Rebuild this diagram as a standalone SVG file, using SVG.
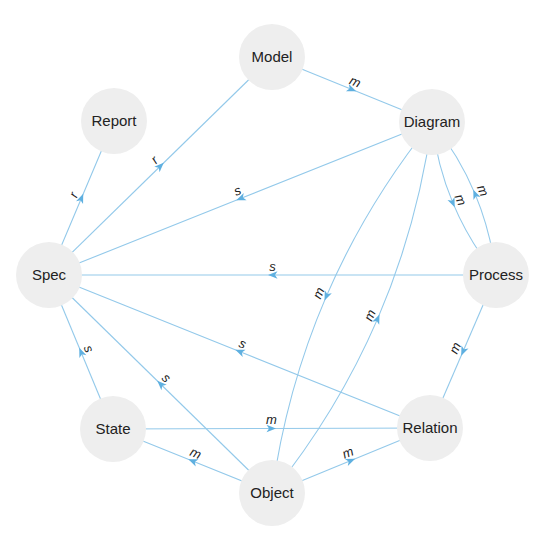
<svg xmlns="http://www.w3.org/2000/svg" width="546" height="550" viewBox="0 0 546 550">
<defs>
<marker id="arr" markerWidth="12" markerHeight="10" viewBox="-1 -5 12 10" refX="5" refY="0" orient="auto" markerUnits="userSpaceOnUse">
<path d="M0,-3.8 L9.5,0 L0,3.8 L2.5,0 Z" fill="#5fb0e0"/>
</marker>
<style>
.edge{fill:none;stroke:#93c9ea;stroke-width:1.1;marker-mid:url(#arr)}
.el{font-family:"Liberation Sans",Arial,sans-serif;font-size:13px;font-style:italic;fill:#222;text-anchor:middle}
.node circle{fill:#eeeeee}
.node text{font-family:"Liberation Sans",Arial,sans-serif;font-size:15px;fill:#222;text-anchor:middle}
</style>
</defs>
<rect width="546" height="550" fill="#ffffff"/>
<g id="connectors">
<path class="edge" d="M272,57 L352,89.5 L432,122"/>
<path class="edge" d="M49,275 L160.5,166 L272,57"/>
<path class="edge" d="M49,275 L81.5,198 L114,121"/>
<path class="edge" d="M432,122 L240.5,198.5 L49,275"/>
<path class="edge" d="M496,275 L272.5,275 L49,275"/>
<path class="edge" d="M430,428 L239.5,351.5 L49,275"/>
<path class="edge" d="M113,429 L81,352 L49,275"/>
<path class="edge" d="M272,493 L160.5,384 L49,275"/>
<path class="edge" d="M113,429 L271.5,428.5 L430,428"/>
<path class="edge" d="M272,493 L192.5,461 L113,429"/>
<path class="edge" d="M272,493 L351,460.5 L430,428"/>
<path class="edge" d="M496,275 L463,351.5 L430,428"/>
<path class="edge" d="M432,122 Q366.3,203.65 326.3,296.4 Q286.3,389.15 272,493"/>
<path class="edge" d="M272,493 Q337.7,411.35 377.7,318.6 Q417.7,225.85 432,122"/>
<path class="edge" d="M432,122 Q436.95,164.9 452.95,203.15 Q468.95,241.4 496,275"/>
<path class="edge" d="M496,275 Q491.05,232.1 475.05,193.85 Q459.05,155.6 432,122"/>
<text class="el" x="355" y="82.1" dy="0.3em" transform="rotate(22.1 355 82.1)">m</text>
<text class="el" x="154.9" y="160.3" dy="0.3em" transform="rotate(-44.35 154.9 160.3)">r</text>
<text class="el" x="74.1" y="194.9" dy="0.3em" transform="rotate(-67.1 74.1 194.9)">r</text>
<text class="el" x="237.5" y="191.1" dy="0.3em" transform="rotate(-21.8 237.5 191.1)">s</text>
<text class="el" x="272.5" y="267" dy="0.3em">s</text>
<text class="el" x="242.5" y="344.1" dy="0.3em" transform="rotate(21.9 242.5 344.1)">s</text>
<text class="el" x="88.4" y="348.9" dy="0.3em" transform="rotate(67.4 88.4 348.9)">s</text>
<text class="el" x="166.1" y="378.3" dy="0.3em" transform="rotate(44.35 166.1 378.3)">s</text>
<text class="el" x="271.5" y="420.5" dy="0.3em">m</text>
<text class="el" x="195.5" y="453.6" dy="0.3em" transform="rotate(21.9 195.5 453.6)">m</text>
<text class="el" x="348" y="453.1" dy="0.3em" transform="rotate(-22.4 348 453.1)">m</text>
<text class="el" x="455.7" y="348.3" dy="0.3em" transform="rotate(-66.7 455.7 348.3)">m</text>
<text class="el" x="319" y="293.2" dy="0.3em" transform="rotate(-66.7 319 293.2)">m</text>
<text class="el" x="370.4" y="315.4" dy="0.3em" transform="rotate(-66.7 370.4 315.4)">m</text>
<text class="el" x="460.3" y="200" dy="0.3em" transform="rotate(67.3 460.3 200)">m</text>
<text class="el" x="482.4" y="190.8" dy="0.3em" transform="rotate(67.3 482.4 190.8)">m</text>
</g>
<g id="node-model" class="node"><circle cx="272" cy="57" r="33"/><text x="272" y="62">Model</text></g>
<g id="node-report" class="node"><circle cx="114" cy="121" r="33"/><text x="114" y="126">Report</text></g>
<g id="node-diagram" class="node"><circle cx="432" cy="122" r="33"/><text x="432" y="127">Diagram</text></g>
<g id="node-spec" class="node"><circle cx="49" cy="275" r="33"/><text x="49" y="280">Spec</text></g>
<g id="node-process" class="node"><circle cx="496" cy="275" r="33"/><text x="496" y="280">Process</text></g>
<g id="node-state" class="node"><circle cx="113" cy="429" r="33"/><text x="113" y="434">State</text></g>
<g id="node-relation" class="node"><circle cx="430" cy="428" r="33"/><text x="430" y="433">Relation</text></g>
<g id="node-object" class="node"><circle cx="272" cy="493" r="33"/><text x="272" y="498">Object</text></g>
</svg>
